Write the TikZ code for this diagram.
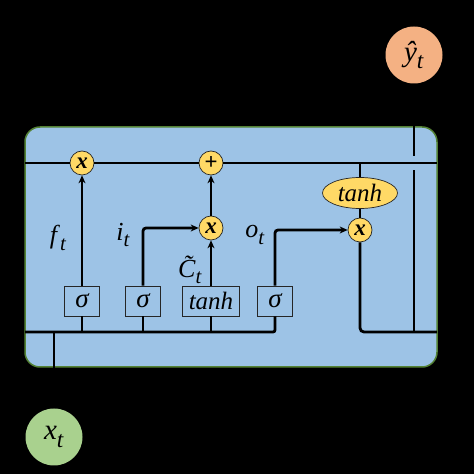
\documentclass[tikz,border=0pt]{standalone}
\usepackage{fontspec}
\setmainfont{LiberationSerif}[Extension=.ttf, UprightFont=*-Regular, ItalicFont=*-Italic, BoldFont=*-Bold, BoldItalicFont=*-BoldItalic]
\usetikzlibrary{arrows.meta,positioning,calc,shapes.geometric}
\definecolor{cellblue}{RGB}{157,195,230}
\definecolor{cellgreen}{RGB}{84,130,53}
\definecolor{opyellow}{RGB}{255,217,102}
\definecolor{outpeach}{RGB}{244,177,131}
\definecolor{inpgreen}{RGB}{169,209,142}
\newcommand{\lsub}[2]{\textit{#1}\raisebox{-0.25em}{\scalebox{0.8}{\textit{#2}}}}
\newcommand{\tildeC}{{\itshape\makebox[0pt][l]{\hspace{0.2em}\raisebox{0.14em}{\char"02DC}}C}}

\begin{document}
\begin{tikzpicture}[x=1pt,y=1pt,>={Stealth[length=8pt,width=7pt]},
  line/.style={line width=2.8pt},
  op/.style={circle, draw=black!85, line width=0.7pt, fill=opyellow, minimum size=24pt, inner sep=0pt, font=\fontsize{23}{23}\selectfont\bfseries\itshape},
  gate/.style={draw=black!85, line width=0.8pt, fill=cellblue, minimum width=35pt, minimum height=30pt, inner sep=0pt, font=\fontsize{27}{27}\selectfont\itshape},
  io/.style={circle, minimum size=57pt, inner sep=0pt, font=\fontsize{29}{29}\selectfont},
  lab/.style={font=\fontsize{26}{26}\selectfont},
]
\fill[black] (0,0) rectangle (474,474);
\draw[cellgreen, line width=1.5pt, fill=cellblue, rounded corners=15pt] (25,107) rectangle (437,347);
% operations on the cell state
\node[op] (fmul) at (82,311) {x};
\node[op] (plus) at (211,311) {+};
\node[op] (imul) at (211,246) {x};
\node[op] (omul) at (360,244) {x};
\node[ellipse, draw=black!85, line width=0.7pt, fill=opyellow, minimum width=75pt, minimum height=31pt, inner sep=0pt, font=\fontsize{25}{25}\selectfont\itshape] (tanhc) at (360,281) {tanh};
% gates
\node[gate] (sigf) at (82,173) {σ};
\node[gate] (sigi) at (143,173) {σ};
\node[gate, minimum width=57pt, font=\fontsize{25}{25}\selectfont\itshape] (tanhg) at (211,173) {tanh};
\node[gate] (sigo) at (275,173) {σ};
% input and output
\node[io, fill=inpgreen] (xt) at (54,37) {\lsub{x}{t}};
\node[io, fill=outpeach] (yhat) at (414,419) {\lsub{ŷ}{t}};
% labels
\node[lab] (flab) at (58,236) {\lsub{f}{t}};
\node[lab] (ilab) at (123,239) {\lsub{i}{t}};
\node[lab] (clab) at (190,204) {\lsub{\tildeC}{t}};
\node[lab] (olab) at (255,239) {\lsub{o}{t}};
% end points
\coordinate (cin) at (25,311);
\coordinate (cout) at (437,311);
\coordinate (ctap) at (360,311);
\coordinate (hin) at (25,142);
\coordinate (hout) at (437,142);
\coordinate (hright) at (414,142);
\coordinate (gaplo) at (414,304);
\coordinate (gaphi) at (414,318);
% cell state
\draw[line] (cin) -- (fmul) -- (plus) -- (cout);
\draw[line] (ctap) -- (tanhc);
\draw[line] (tanhc) -- (omul);
% gate outputs
\draw[line,->] (sigf) -- (fmul);
\draw[line,->,rounded corners=3pt] (sigi) |- (imul);
\draw[line,->] (tanhg) -- (imul);
\draw[line,->] (imul) -- (plus);
\draw[line,->,rounded corners=3pt] (sigo) |- (omul);
% hidden state
\draw[line,rounded corners=2pt] (hin) -| (sigo);
\draw[line] (sigf) -- (sigf |- hin);
\draw[line] (sigi) -- (sigi |- hin);
\draw[line] (tanhg) -- (tanhg |- hin);
\draw[line] (xt) -- (xt |- hin);
\draw[line,rounded corners=4pt] (omul) |- (hout);
\draw[line] (hright) -- (gaplo);
\draw[line] (gaphi) -- (yhat);
\end{tikzpicture}
\end{document}
